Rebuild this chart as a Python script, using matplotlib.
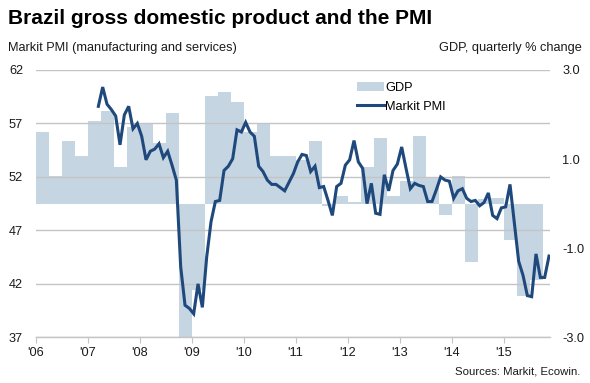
import numpy as np
import matplotlib.pyplot as plt
from matplotlib.patches import Patch
from matplotlib.lines import Line2D

plt.rcParams.update(
    {
        "font.family": ["Liberation Sans", "DejaVu Sans"],
        "axes.unicode_minus": False,
        "font.size": 9.2,
    }
)

# GDP, quarterly % change, 2006Q1 .. 2015Q3
gdp = [
    1.61, 0.63, 1.40, 1.07,
    1.85, 2.09, 0.83, 1.71,
    1.80, 1.37, 2.03, -3.00,
    -1.94, 2.42, 2.51, 2.29,
    1.60, 1.82, 1.07, 1.08,
    0.99, 1.41, -0.05, 0.18,
    0.04, 0.83, 1.48, 0.17,
    0.51, 1.52, 0.60, -0.26,
    0.62, -1.31, 0.10, 0.12,
    -0.82, -2.07, -1.72,
]

# Markit composite PMI, monthly, Mar 2007 .. Nov 2015
pmi = [
    58.6, 60.4, 58.8, 58.3, 57.7, 55.0, 57.8, 58.6, 56.5, 57.0,
    55.8, 53.6, 54.4, 54.6, 55.1, 53.8, 54.4, 53.1, 51.7, 43.6, 40.0, 39.7,
    39.2, 42.0, 39.8, 44.5, 47.8, 49.7, 49.8, 52.6, 53.0, 53.7, 56.4, 56.2,
    57.1, 56.2, 55.8, 53.0, 52.5, 51.7, 51.3, 51.3, 51.0, 50.7, 51.5, 52.3,
    53.4, 54.1, 54.0, 52.5, 53.0, 51.0, 51.1, 49.8, 48.4, 51.1, 51.4, 53.1,
    53.6, 55.4, 53.4, 52.8, 49.5, 51.4, 48.6, 48.5, 52.2, 50.7, 52.6, 53.2,
    54.8, 52.8, 50.9, 51.4, 51.2, 51.1, 49.7, 49.7, 50.8, 52.0, 51.7, 51.6,
    50.0, 50.7, 50.9, 50.0, 49.7, 49.8, 49.3, 49.6, 50.5, 48.4, 48.1, 49.1,
    49.2, 51.3, 47.7, 44.1, 42.8, 40.9, 40.8, 44.8, 42.6, 42.6, 44.6,
]

years = list(range(2006, 2016))
year_labels = ["'%02d" % (y % 100) for y in years]

bar_color = "#c6d5e2"
line_color = "#1f497d"
grid_color = "#c4c4c4"
text_color = "#1a1a1a"

# time axes in decimal years
q_start = 2006 + np.arange(len(gdp)) * 0.25
m_mid = 2007 + (2 + np.arange(len(pmi)) + 0.5) / 12

fig = plt.figure(figsize=(5.9, 3.83), dpi=100)
ax = fig.add_axes([0.0602, 0.1193, 0.872, 0.698])
ax2 = ax.twinx()

ax2.bar(q_start, gdp, width=0.25, align="edge", color=bar_color, linewidth=0)
ax.plot(m_mid, pmi, color=line_color, lw=2.2, solid_joinstyle="miter", zorder=3)

# PMI axis on top of the GDP bars
ax.set_zorder(ax2.get_zorder() + 1)
ax.patch.set_visible(False)

ax.set_xlim(2006, 2015.894)
ax.set_ylim(37, 62)
ax.set_yticks(np.arange(37, 63, 5))
ax.set_xticks(years)
ax.set_xticklabels(year_labels)
ax.yaxis.grid(True, color=grid_color, lw=1)
ax.set_axisbelow(True)

ax2.set_ylim(-3, 3)
ax2.set_yticks([-3, -1, 1, 3])
ax2.set_yticklabels(["%.1f" % v for v in [-3, -1, 1, 3]])

for a in (ax, ax2):
    for s in ("top", "left", "right"):
        a.spines[s].set_visible(False)
ax2.spines["bottom"].set_visible(False)
ax.spines["bottom"].set_color(grid_color)
ax.spines["bottom"].set_linewidth(1)

ax.tick_params(axis="y", length=0, pad=9, labelcolor=text_color, labelsize=9.2)
ax.tick_params(axis="x", length=4, color=grid_color, pad=3, labelcolor=text_color, labelsize=9.2)
ax2.tick_params(axis="y", length=0, pad=9, labelcolor=text_color, labelsize=9.2)

handles = [Patch(color=bar_color, linewidth=0), Line2D([], [], color=line_color, lw=2.2)]
ax.legend(handles, ["GDP", "Markit PMI"], loc="upper left",
          bbox_to_anchor=(351 / 590, 1 - 76 / 383), bbox_transform=fig.transFigure,
          frameon=False, borderpad=0, handlelength=2.1, handletextpad=0.1,
          labelspacing=0.5, fontsize=9.2)

fig.text(8 / 590, 1 - 18 / 383, "Brazil gross domestic product and the PMI",
         fontsize=15, fontweight="bold", va="center", ha="left", color="#000000")
fig.text(8 / 590, 1 - 48 / 383, "Markit PMI (manufacturing and services)",
         fontsize=9.2, va="center", ha="left", color=text_color)
fig.text(582 / 590, 1 - 48 / 383, "GDP, quarterly % change",
         fontsize=9.2, va="center", ha="right", color=text_color)
fig.text(580 / 590, 1 - 372 / 383, "Sources: Markit, Ecowin.",
         fontsize=8.2, va="center", ha="right", color=text_color)

fig.savefig("out.png", dpi=100)
